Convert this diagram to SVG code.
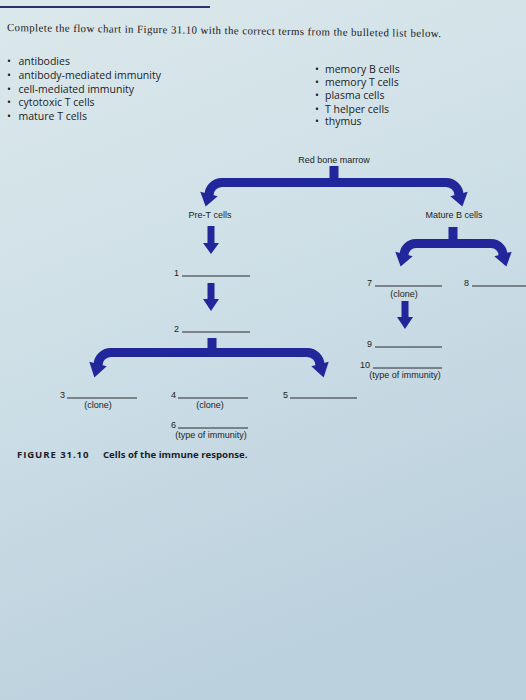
<svg xmlns="http://www.w3.org/2000/svg" width="526" height="700" viewBox="0 0 526 700">
<defs>
<linearGradient id="bg" x1="0" y1="0" x2="0.3" y2="1">
<stop offset="0" stop-color="#dbe8eb"/>
<stop offset="0.45" stop-color="#cfe0e7"/>
<stop offset="1" stop-color="#bcd1de"/>
</linearGradient>
<style>
.lbl{font-family:"Liberation Sans",Arial,sans-serif;font-size:9px;fill:#1c1c22}
.mid{text-anchor:middle}
.end{text-anchor:end}
.bul{font-family:"Open Sans","Liberation Sans",sans-serif;font-size:10.5px;fill:#1c1c24}
.blank{stroke:#2a2a30;stroke-width:1.1}
.brace{fill:none;stroke:#21269a;stroke-width:9}
.blue{fill:#21269a}
.cap{font-family:"Open Sans","Liberation Sans",sans-serif;font-size:9.6px;font-weight:bold;fill:#1a1d2a}
</style>
</defs>
<rect x="0" y="0" width="526" height="700" fill="url(#bg)"/>
<line x1="0" y1="7" x2="210" y2="7" stroke="#2a3170" stroke-width="2"/>

<text x="7" y="31" font-family="'Liberation Serif','Times New Roman',serif" font-size="10.8" fill="#1a1a1a" textLength="434" lengthAdjust="spacing" transform="rotate(0.8 7 31)">Complete the flow chart in Figure 31.10 with the correct terms from the bulleted list below.</text>

<g id="list-left">
<text class="bul" x="7" y="65">•</text><text class="bul" x="18.5" y="65">antibodies</text>
<text class="bul" x="7" y="79">•</text><text class="bul" x="18.5" y="79">antibody-mediated immunity</text>
<text class="bul" x="7" y="92.5">•</text><text class="bul" x="18.5" y="92.5">cell-mediated immunity</text>
<text class="bul" x="7" y="106">•</text><text class="bul" x="18.5" y="106">cytotoxic T cells</text>
<text class="bul" x="7" y="119.5">•</text><text class="bul" x="18.5" y="119.5">mature T cells</text>
</g>
<g id="list-right">
<text class="bul" x="315" y="73">•</text><text class="bul" x="325" y="73">memory B cells</text>
<text class="bul" x="315" y="86">•</text><text class="bul" x="325" y="86">memory T cells</text>
<text class="bul" x="315" y="99">•</text><text class="bul" x="325" y="99">plasma cells</text>
<text class="bul" x="315" y="112.5">•</text><text class="bul" x="325" y="112.5">T helper cells</text>
<text class="bul" x="315" y="125">•</text><text class="bul" x="325" y="125">thymus</text>
</g>

<g id="connectors">
<rect class="blue" x="329.5" y="166" width="9" height="17"/>
<path class="brace" d="M209,196 A13,13 0 0 1 222,182.5 H446 A13,13 0 0 1 459,196"/>
<polygon class="blue" points="200,194 218,194 209,207" transform="rotate(15 209 194)"/>
<polygon class="blue" points="450,194 468,194 459,207" transform="rotate(-15 459 194)"/>
<rect class="blue" x="448.5" y="227" width="9" height="17"/>
<path class="brace" d="M404,256 A12,12 0 0 1 416,243.5 H491 A12,12 0 0 1 503,256"/>
<polygon class="blue" points="395,254 413,254 404,267" transform="rotate(15 404 254)"/>
<polygon class="blue" points="494,254 512,254 503,267" transform="rotate(-15 503 254)"/>
<rect class="blue" x="207.5" y="338" width="9" height="16"/>
<path class="brace" d="M98,366 A13,13 0 0 1 111,352.5 H307 A13,13 0 0 1 320,366"/>
<polygon class="blue" points="89,364 107,364 98,378" transform="rotate(15 98 364)"/>
<polygon class="blue" points="311,364 329,364 320,378" transform="rotate(-15 320 364)"/>
<rect class="blue" x="207.5" y="226" width="7" height="18"/>
<polygon class="blue" points="203,243 219,243 211,254"/>
<rect class="blue" x="207.5" y="283" width="7" height="17"/>
<polygon class="blue" points="203,299 219,299 211,311"/>
<rect class="blue" x="401.5" y="301" width="7" height="17"/>
<polygon class="blue" points="397,317 413,317 405,329"/>
</g>

<g id="n-rbm"><text class="lbl mid" x="334" y="163">Red bone marrow</text></g>
<g id="n-pret"><text class="lbl mid" x="210" y="218">Pre-T cells</text></g>
<g id="n-matb"><text class="lbl mid" x="454" y="218">Mature B cells</text></g>

<g id="n1"><text class="lbl end" x="179" y="276">1</text><line class="blank" x1="182" y1="276" x2="250" y2="276"/></g>
<g id="n2"><text class="lbl end" x="179" y="332">2</text><line class="blank" x1="182" y1="332" x2="250" y2="332"/></g>
<g id="n7"><text class="lbl end" x="372" y="286">7</text><line class="blank" x1="375" y1="286" x2="442" y2="286"/><text class="lbl mid" x="404" y="297">(clone)</text></g>
<g id="n8"><text class="lbl end" x="469" y="286">8</text><line class="blank" x1="472" y1="286" x2="526" y2="286"/></g>
<g id="n9"><text class="lbl end" x="372" y="347">9</text><line class="blank" x1="375" y1="347" x2="442" y2="347"/></g>
<g id="n10"><text class="lbl end" x="370" y="368">10</text><line class="blank" x1="373" y1="368" x2="442" y2="368"/><text class="lbl mid" x="405" y="378">(type of immunity)</text></g>
<g id="n3"><text class="lbl end" x="65" y="398">3</text><line class="blank" x1="67" y1="398" x2="137" y2="398"/><text class="lbl mid" x="98" y="408">(clone)</text></g>
<g id="n4"><text class="lbl end" x="176" y="398">4</text><line class="blank" x1="178" y1="398" x2="248" y2="398"/><text class="lbl mid" x="210" y="408">(clone)</text></g>
<g id="n5"><text class="lbl end" x="288" y="398">5</text><line class="blank" x1="290" y1="398" x2="357" y2="398"/></g>
<g id="n6"><text class="lbl end" x="176" y="428">6</text><line class="blank" x1="178" y1="428" x2="248" y2="428"/><text class="lbl mid" x="211" y="438">(type of immunity)</text></g>

<text class="cap" x="17" y="458"><tspan letter-spacing="0.9">FIGURE 31.10</tspan><tspan x="103">Cells of the immune response.</tspan></text>
</svg>
